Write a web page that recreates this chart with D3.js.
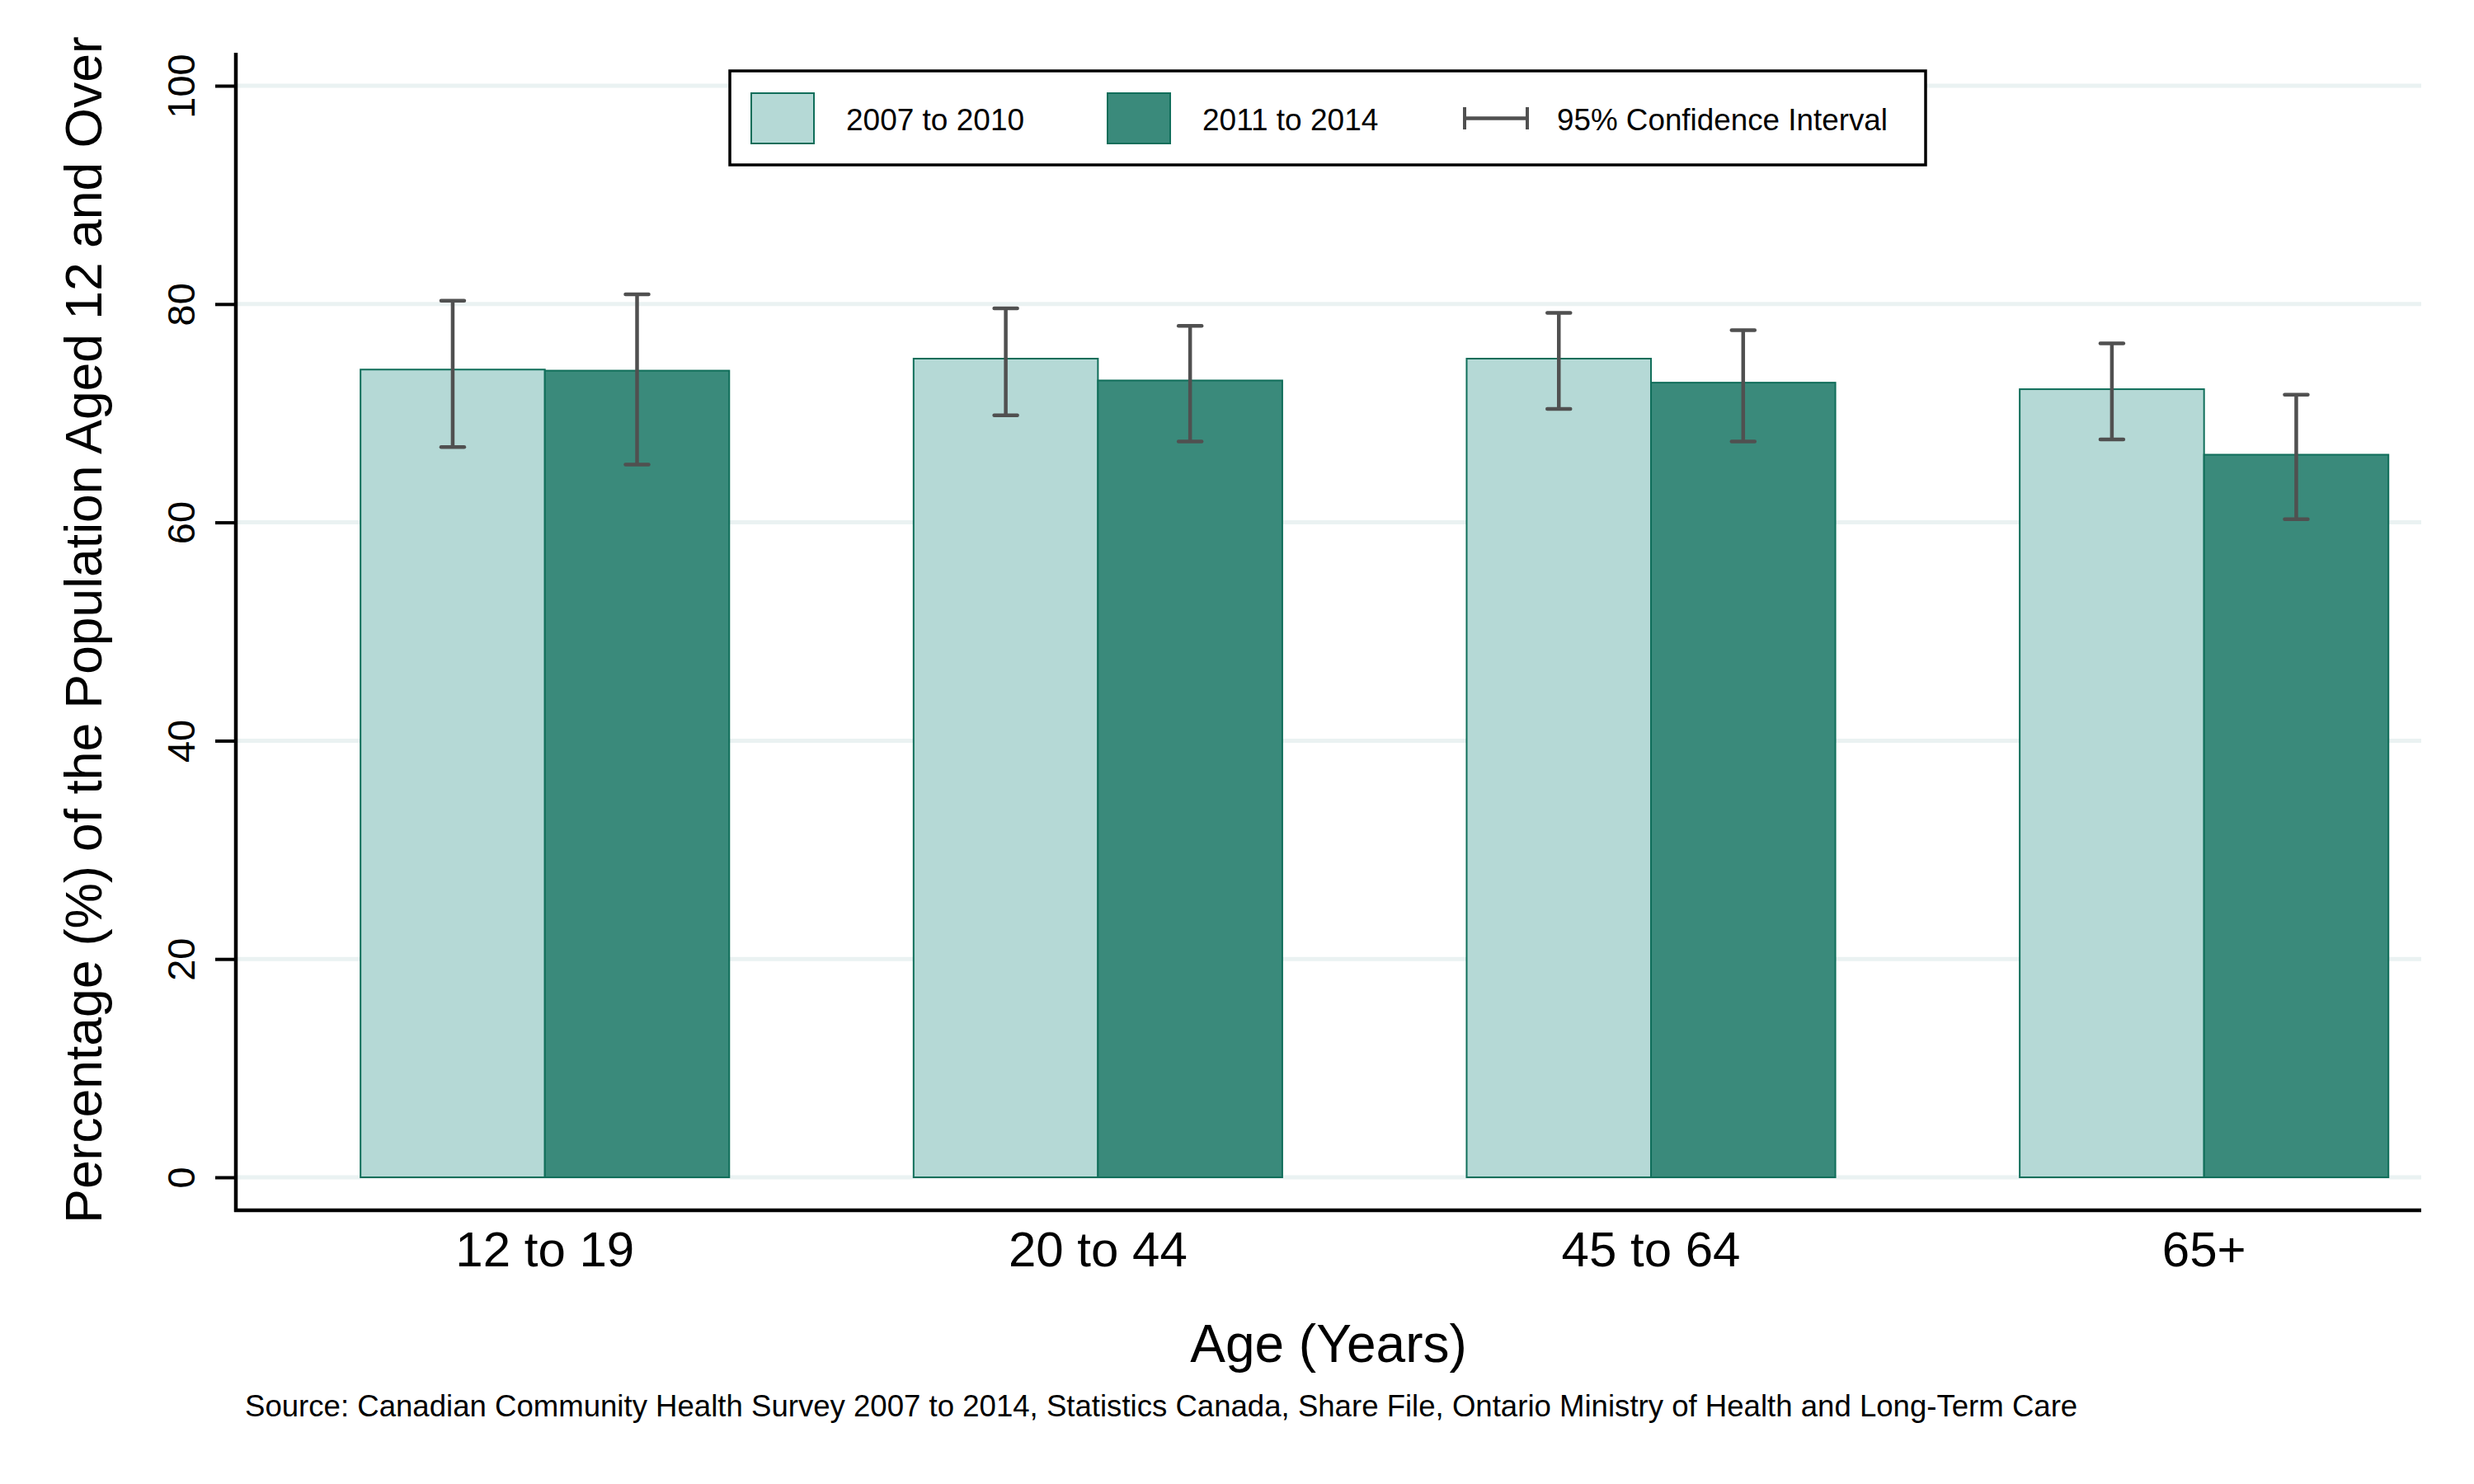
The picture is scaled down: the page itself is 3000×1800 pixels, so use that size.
<!DOCTYPE html>
<html>
<head>
<meta charset="utf-8">
<script src="https://d3js.org/d3.v7.min.js"></script>
<style>
  body { margin: 0; background: #fff; }
  text { font-family: "Liberation Sans", Arial, sans-serif; fill: #000; }
</style>
</head>
<body>
<div id="viz"></div>
<script>
// data
var ages = ["12 to 19", "20 to 44", "45 to 64", "65+"];
var periods = ["2007 to 2010", "2011 to 2014"];
var est0710 = [74.0, 75.0, 75.0, 72.2];
var lo0710 = [66.9, 69.8, 70.4, 67.6];
var hi0710 = [80.3, 79.6, 79.2, 76.4];
var est1114 = [73.9, 73.0, 72.8, 66.2];
var lo1114 = [65.3, 67.4, 67.4, 60.3];
var hi1114 = [80.9, 78.0, 77.6, 71.7];
var yTicks = [0, 20, 40, 60, 80, 100];
var fills = ["#b5d9d6", "#3a8a7b"];
var ciLabel = "95% Confidence Interval";
var yTitle = "Percentage (%) of the Population Aged 12 and Over";
var xTitle = "Age (Years)";
var source = "Source: Canadian Community Health Survey 2007 to 2014, Statistics Canada, Share File, Ontario Ministry of Health and Long-Term Care";

var width = 3000, height = 1800;
var plotLeft = 286, plotRight = 2936, plotTop = 64, plotBottom = 1468;

// build rows for the bars
var rows = [];
ages.forEach(function(a, i) {
  rows.push({age: a, period: periods[0], v: est0710[i], lo: lo0710[i], hi: hi0710[i], k: 0});
  rows.push({age: a, period: periods[1], v: est1114[i], lo: lo1114[i], hi: hi1114[i], k: 1});
});

var svg = d3.select("#viz").append("svg")
  .attr("width", width)
  .attr("height", height);

var y = d3.scaleLinear().domain([0, 100]).range([1428, 104]);
var x = d3.scaleBand().domain(ages).range([325.4, 3008])
  .paddingInner(1 / 3).paddingOuter(1 / 6);
var xs = d3.scaleBand().domain(periods).range([0, x.bandwidth()]);

// gridlines
svg.append("g").selectAll("line")
  .data(yTicks)
  .enter().append("line")
  .attr("x1", plotLeft + 2).attr("x2", plotRight)
  .attr("y1", function(d) { return y(d); })
  .attr("y2", function(d) { return y(d); })
  .attr("stroke", "#eaf2f2")
  .attr("stroke-width", 5);

// bars
svg.append("g").selectAll("rect")
  .data(rows)
  .enter().append("rect")
  .attr("x", function(d) { return x(d.age) + xs(d.period); })
  .attr("y", function(d) { return y(d.v); })
  .attr("width", xs.bandwidth())
  .attr("height", function(d) { return y(0) - y(d.v); })
  .attr("fill", function(d) { return fills[d.k]; })
  .attr("stroke", "#106e5a")
  .attr("stroke-width", 2);

// confidence intervals
var ci = svg.append("g").selectAll("g")
  .data(rows)
  .enter().append("g")
  .attr("transform", function(d) {
    return "translate(" + (x(d.age) + xs(d.period) + xs.bandwidth() / 2) + ",0)";
  });
ci.append("line")
  .attr("x1", 0).attr("x2", 0)
  .attr("y1", function(d) { return y(d.lo); })
  .attr("y2", function(d) { return y(d.hi); })
  .attr("stroke", "#505050").attr("stroke-width", 4.5);
ci.append("line")
  .attr("x1", -14).attr("x2", 14)
  .attr("y1", function(d) { return y(d.hi); })
  .attr("y2", function(d) { return y(d.hi); })
  .attr("stroke", "#505050").attr("stroke-width", 4.5)
  .attr("stroke-linecap", "round");
ci.append("line")
  .attr("x1", -14).attr("x2", 14)
  .attr("y1", function(d) { return y(d.lo); })
  .attr("y2", function(d) { return y(d.lo); })
  .attr("stroke", "#505050").attr("stroke-width", 4.5)
  .attr("stroke-linecap", "round");

// y axis
var yAxis = svg.append("g")
  .attr("transform", "translate(" + plotLeft + ",0)")
  .call(d3.axisLeft(y).tickValues(yTicks).tickSize(25));
yAxis.select(".domain").remove();
yAxis.selectAll(".tick line").attr("stroke", "#000").attr("stroke-width", 4);
yAxis.selectAll(".tick text")
  .attr("transform", "rotate(-90)")
  .attr("x", 0).attr("y", -50).attr("dy", 0)
  .attr("text-anchor", "middle")
  .style("font-size", "47px")
  .style("font-family", "'Liberation Sans', Arial, sans-serif")
  .attr("fill", "#000");

// x axis
var xAxis = svg.append("g")
  .attr("transform", "translate(0," + plotBottom + ")")
  .call(d3.axisBottom(x).tickSize(0));
xAxis.select(".domain").remove();
xAxis.selectAll(".tick text")
  .attr("y", 68).attr("dy", 0)
  .style("font-size", "60px")
  .style("font-family", "'Liberation Sans', Arial, sans-serif")
  .attr("fill", "#000");

// axis lines
svg.append("line")
  .attr("x1", plotLeft).attr("x2", plotLeft)
  .attr("y1", plotTop).attr("y2", plotBottom + 2)
  .attr("stroke", "#000").attr("stroke-width", 4.5);
svg.append("line")
  .attr("x1", plotLeft - 2).attr("x2", plotRight)
  .attr("y1", plotBottom).attr("y2", plotBottom)
  .attr("stroke", "#000").attr("stroke-width", 4.5);

// legend
var lg = svg.append("g");
lg.append("rect")
  .attr("x", 885).attr("y", 86)
  .attr("width", 1450).attr("height", 114)
  .attr("fill", "#fff").attr("stroke", "#000").attr("stroke-width", 3.5);
var swatchX = [911, 1343];
periods.forEach(function(p, i) {
  lg.append("rect")
    .attr("x", swatchX[i]).attr("y", 113)
    .attr("width", 76).attr("height", 61)
    .attr("fill", fills[i]).attr("stroke", "#106e5a").attr("stroke-width", 2);
  lg.append("text")
    .attr("x", swatchX[i] + 115).attr("y", 157.5)
    .style("font-size", "37px")
    .text(p);
});
lg.append("line")
  .attr("x1", 1776).attr("x2", 1852).attr("y1", 143.5).attr("y2", 143.5)
  .attr("stroke", "#505050").attr("stroke-width", 4.5);
[1776, 1852].forEach(function(cx) {
  lg.append("line")
    .attr("x1", cx).attr("x2", cx).attr("y1", 130).attr("y2", 157)
    .attr("stroke", "#505050").attr("stroke-width", 4);
});
lg.append("text")
  .attr("x", 1888).attr("y", 157.5)
  .style("font-size", "36.8px")
  .text(ciLabel);

// titles
svg.append("text")
  .attr("transform", "translate(123,764) rotate(-90)")
  .attr("text-anchor", "middle")
  .style("font-size", "62.4px")
  .text(yTitle);

svg.append("text")
  .attr("x", (plotLeft + plotRight) / 2).attr("y", 1652)
  .attr("text-anchor", "middle")
  .style("font-size", "64px")
  .text(xTitle);

svg.append("text")
  .attr("x", 297).attr("y", 1718)
  .style("font-size", "36.6px")
  .text(source);
</script>
</body>
</html>
